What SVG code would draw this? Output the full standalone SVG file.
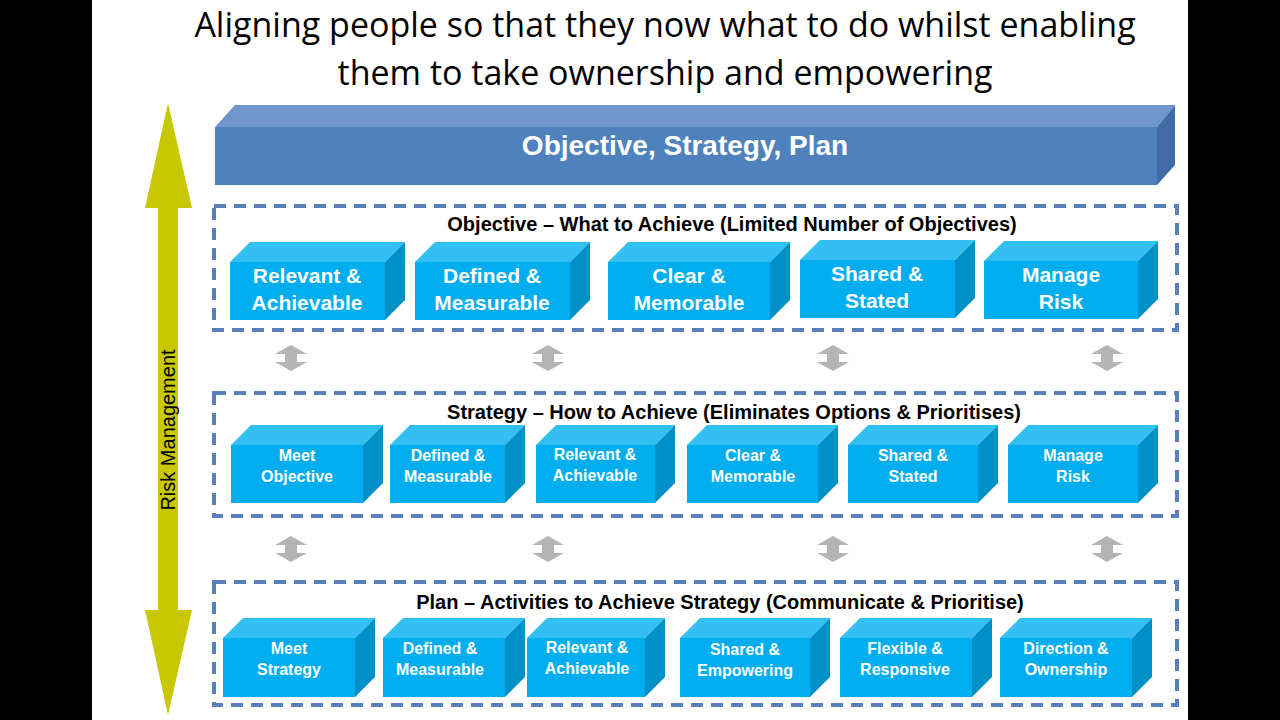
<svg xmlns="http://www.w3.org/2000/svg" width="1280" height="720" viewBox="0 0 1280 720">
<defs>
<style>
.f{fill:#00aeef}.t{fill:#33bff2}.s{fill:#0090c8}
.bt{font-family:"Liberation Sans",Arial,sans-serif;font-weight:bold;fill:#fff;text-anchor:middle}
.b1{font-size:21px}.b2{font-size:16px}
.fr{fill:none;stroke:#5a7fbd;stroke-width:4;stroke-dasharray:12 8}
.h{font-family:"Liberation Sans",Arial,sans-serif;font-weight:bold;font-size:20px;fill:#000;text-anchor:middle}
.g{fill:#b4b4b4}
</style>
<symbol id="ga" viewBox="0 0 36 26" overflow="visible"><path d="M18 0 L34 9 L24 9 L24 17 L34 17 L18 26 L2 17 L12 17 L12 9 L2 9 Z"/></symbol>
</defs>
<rect width="1280" height="720" fill="#000"/>
<rect x="92" y="0" width="1096" height="720" fill="#fff"/>
<g id="title" font-family="'Open Sans','Liberation Sans',sans-serif" font-size="34" text-anchor="middle" fill="#000">
<text x="665" y="37">Aligning people so that they now what to do whilst enabling</text>
<text x="665" y="85">them to take ownership and empowering</text>
</g>
<g id="risk">
<path d="M168 103 L192 208 L178 208 L178 610 L192 610 L168 715 L145 610 L158 610 L158 208 L145 208 Z" fill="#c8c800"/>
<text transform="translate(175 430) rotate(-90)" font-family="'Liberation Sans',Arial,sans-serif" font-size="20" text-anchor="middle" fill="#000">Risk Management</text>
</g>
<g id="banner">
<path d="M215 127 L235 105 L1175 105 L1157 127 Z" fill="#6f97cc"/>
<path d="M1157 127 L1175 105 L1175 165 L1157 185 Z" fill="#3f6ca6"/>
<rect x="215" y="127" width="942" height="58" fill="#4f81bd"/>
<text x="685" y="155" font-family="'Liberation Sans',Arial,sans-serif" font-weight="bold" font-size="28" fill="#fff" text-anchor="middle">Objective, Strategy, Plan</text>
</g>
<g id="frames">
<rect class="fr" x="214" y="206" width="963" height="124"/>
<rect class="fr" x="214" y="393" width="963" height="123"/>
<rect class="fr" x="214" y="582" width="963" height="123"/>
<text class="h" x="732" y="231">Objective – What to Achieve (Limited Number of Objectives)</text>
<text class="h" x="734" y="419">Strategy – How to Achieve (Eliminates Options &amp; Prioritises)</text>
<text class="h" x="720" y="609">Plan – Activities to Achieve Strategy (Communicate &amp; Prioritise)</text>
</g>
<g id="connectors" class="g">
<use href="#ga" x="273" y="345" width="36" height="26"/>
<use href="#ga" x="530" y="345" width="36" height="26"/>
<use href="#ga" x="815" y="345" width="36" height="26"/>
<use href="#ga" x="1089" y="345" width="36" height="26"/>
<use href="#ga" x="273" y="536" width="36" height="26"/>
<use href="#ga" x="530" y="536" width="36" height="26"/>
<use href="#ga" x="815" y="536" width="36" height="26"/>
<use href="#ga" x="1089" y="536" width="36" height="26"/>
</g>
<!-- Row 1 -->
<g id="o1"><path class="t" d="M230 262 L250 242 L405 242 L385 262Z"/><path class="s" d="M385 262 L405 242 L405 300 L385 320Z"/><rect class="f" x="230" y="262" width="155" height="58"/><text class="bt b1" x="307" y="283">Relevant &amp;</text><text class="bt b1" x="307" y="310">Achievable</text></g>
<g id="o2"><path class="t" d="M415 262 L435 242 L590 242 L570 262Z"/><path class="s" d="M570 262 L590 242 L590 300 L570 320Z"/><rect class="f" x="415" y="262" width="155" height="58"/><text class="bt b1" x="492" y="283">Defined &amp;</text><text class="bt b1" x="492" y="310">Measurable</text></g>
<g id="o3"><path class="t" d="M608 262 L628 242 L790 242 L770 262Z"/><path class="s" d="M770 262 L790 242 L790 300 L770 320Z"/><rect class="f" x="608" y="262" width="162" height="58"/><text class="bt b1" x="689" y="283">Clear &amp;</text><text class="bt b1" x="689" y="310">Memorable</text></g>
<g id="o4"><path class="t" d="M800 260 L820 240 L975 240 L955 260Z"/><path class="s" d="M955 260 L975 240 L975 298 L955 318Z"/><rect class="f" x="800" y="260" width="155" height="58"/><text class="bt b1" x="877" y="281">Shared &amp;</text><text class="bt b1" x="877" y="308">Stated</text></g>
<g id="o5"><path class="t" d="M984 261 L1004 241 L1158 241 L1138 261Z"/><path class="s" d="M1138 261 L1158 241 L1158 299 L1138 319Z"/><rect class="f" x="984" y="261" width="154" height="58"/><text class="bt b1" x="1061" y="282">Manage</text><text class="bt b1" x="1061" y="309">Risk</text></g>
<!-- Row 2 -->
<g id="s1"><path class="t" d="M231 445 L251 425 L383 425 L363 445Z"/><path class="s" d="M363 445 L383 425 L383 483 L363 503Z"/><rect class="f" x="231" y="445" width="132" height="58"/><text class="bt b2" x="297" y="461">Meet</text><text class="bt b2" x="297" y="482">Objective</text></g>
<g id="s2"><path class="t" d="M390 445 L410 425 L525 425 L505 445Z"/><path class="s" d="M505 445 L525 425 L525 483 L505 503Z"/><rect class="f" x="390" y="445" width="115" height="58"/><text class="bt b2" x="448" y="461">Defined &amp;</text><text class="bt b2" x="448" y="482">Measurable</text></g>
<g id="s3"><path class="t" d="M536 445 L556 425 L675 425 L655 445Z"/><path class="s" d="M655 445 L675 425 L675 483 L655 503Z"/><rect class="f" x="536" y="445" width="119" height="58"/><text class="bt b2" x="595" y="460">Relevant &amp;</text><text class="bt b2" x="595" y="481">Achievable</text></g>
<g id="s4"><path class="t" d="M687 445 L707 425 L838 425 L818 445Z"/><path class="s" d="M818 445 L838 425 L838 483 L818 503Z"/><rect class="f" x="687" y="445" width="131" height="58"/><text class="bt b2" x="753" y="461">Clear &amp;</text><text class="bt b2" x="753" y="482">Memorable</text></g>
<g id="s5"><path class="t" d="M848 445 L868 425 L998 425 L978 445Z"/><path class="s" d="M978 445 L998 425 L998 483 L978 503Z"/><rect class="f" x="848" y="445" width="130" height="58"/><text class="bt b2" x="913" y="461">Shared &amp;</text><text class="bt b2" x="913" y="482">Stated</text></g>
<g id="s6"><path class="t" d="M1008 445 L1028 425 L1158 425 L1138 445Z"/><path class="s" d="M1138 445 L1158 425 L1158 483 L1138 503Z"/><rect class="f" x="1008" y="445" width="130" height="58"/><text class="bt b2" x="1073" y="461">Manage</text><text class="bt b2" x="1073" y="482">Risk</text></g>
<!-- Row 3 -->
<g id="p1"><path class="t" d="M223 638 L243 618 L375 618 L355 638Z"/><path class="s" d="M355 638 L375 618 L375 677 L355 697Z"/><rect class="f" x="223" y="638" width="132" height="59"/><text class="bt b2" x="289" y="654">Meet</text><text class="bt b2" x="289" y="675">Strategy</text></g>
<g id="p2"><path class="t" d="M383 638 L403 618 L525 618 L505 638Z"/><path class="s" d="M505 638 L525 618 L525 677 L505 697Z"/><rect class="f" x="383" y="638" width="122" height="59"/><text class="bt b2" x="440" y="654">Defined &amp;</text><text class="bt b2" x="440" y="675">Measurable</text></g>
<g id="p3"><path class="t" d="M527 638 L547 618 L665 618 L645 638Z"/><path class="s" d="M645 638 L665 618 L665 677 L645 697Z"/><rect class="f" x="527" y="638" width="118" height="59"/><text class="bt b2" x="587" y="653">Relevant &amp;</text><text class="bt b2" x="587" y="674">Achievable</text></g>
<g id="p4"><path class="t" d="M680 638 L700 618 L830 618 L810 638Z"/><path class="s" d="M810 638 L830 618 L830 677 L810 697Z"/><rect class="f" x="680" y="638" width="130" height="59"/><text class="bt b2" x="745" y="655">Shared &amp;</text><text class="bt b2" x="745" y="676">Empowering</text></g>
<g id="p5"><path class="t" d="M840 638 L860 618 L992 618 L972 638Z"/><path class="s" d="M972 638 L992 618 L992 677 L972 697Z"/><rect class="f" x="840" y="638" width="132" height="59"/><text class="bt b2" x="905" y="654">Flexible &amp;</text><text class="bt b2" x="905" y="675">Responsive</text></g>
<g id="p6"><path class="t" d="M1000 638 L1020 618 L1152 618 L1132 638Z"/><path class="s" d="M1132 638 L1152 618 L1152 677 L1132 697Z"/><rect class="f" x="1000" y="638" width="132" height="59"/><text class="bt b2" x="1066" y="654">Direction &amp;</text><text class="bt b2" x="1066" y="675">Ownership</text></g>
</svg>
